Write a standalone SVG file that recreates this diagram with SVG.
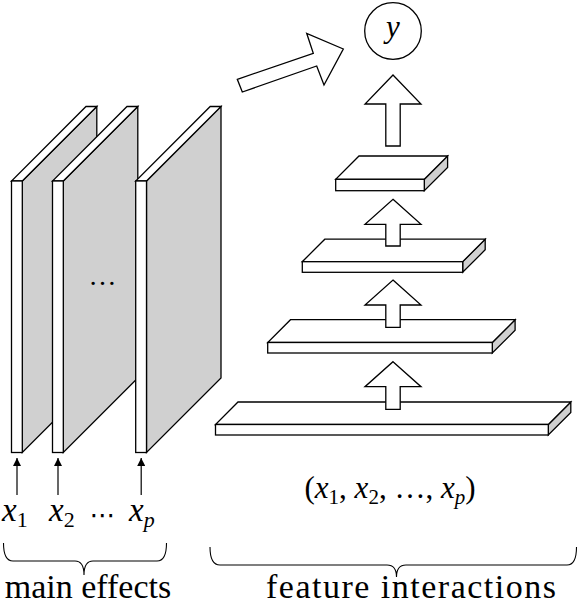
<svg xmlns="http://www.w3.org/2000/svg" width="586" height="605" viewBox="0 0 586 605">
<defs>
<style>
.w{fill:#fff;stroke:#000;stroke-width:1.3;stroke-linejoin:miter}
.g{fill:#d0d0d0;stroke:#000;stroke-width:1.3;stroke-linejoin:miter}
.ln{fill:none;stroke:#000;stroke-width:1.2}
.br{fill:none;stroke:#000;stroke-width:1.1}
.m{font-family:"Liberation Serif",serif;font-style:italic;fill:#000}
.sub{font-style:normal}
.lbl{font-family:"Liberation Serif",serif;font-size:34px;fill:#000}
</style>
<marker id="ah" viewBox="0 0 10 10" refX="10" refY="5" markerWidth="8" markerHeight="8" markerUnits="userSpaceOnUse" orient="auto">
<path d="M0,0 L10,5 L0,10 z" fill="#000"/>
</marker>
</defs>
<rect width="586" height="605" fill="#fff"/>

<g id="panel1">
<polygon class="g" points="22.3,181 96.8,106.5 96.8,378 22.3,452.5"/>
<polygon class="w" points="11.5,181 22.3,181 96.8,106.5 86,106.5"/>
<rect class="w" x="11.5" y="181" width="10.8" height="271.5"/>
</g>
<g id="panel2">
<polygon class="g" points="63.3,181 137.8,106.5 137.8,378 63.3,452.5"/>
<polygon class="w" points="52.5,181 63.3,181 137.8,106.5 127,106.5"/>
<rect class="w" x="52.5" y="181" width="10.8" height="271.5"/>
<text x="102.5" y="285" font-family="Liberation Serif,serif" font-size="28" text-anchor="middle">…</text>
</g>
<g id="panel3">
<polygon class="g" points="146.5,181 221,106.5 221,378 146.5,452.5"/>
<polygon class="w" points="135.7,181 146.5,181 221,106.5 210.2,106.5"/>
<rect class="w" x="135.7" y="181" width="10.8" height="271.5"/>
</g>

<g id="plate1">
<polygon class="g" points="424.3,179.3 447.6,156 447.6,167.4 424.3,190.7"/>
<polygon class="w" points="335.7,179.3 424.3,179.3 447.6,156 359,156"/>
<rect class="w" x="335.7" y="179.3" width="88.6" height="11.4"/>
</g>
<g id="plate2">
<polygon class="g" points="462.7,261.7 485.2,239.2 485.2,249.8 462.7,272.3"/>
<polygon class="w" points="302.3,261.7 462.7,261.7 485.2,239.2 324.8,239.2"/>
<rect class="w" x="302.3" y="261.7" width="160.4" height="10.6"/>
</g>
<g id="plate3">
<polygon class="g" points="492.3,342.5 515.1,319.7 515.1,330.2 492.3,353"/>
<polygon class="w" points="267.7,342.5 492.3,342.5 515.1,319.7 290.5,319.7"/>
<rect class="w" x="267.7" y="342.5" width="224.6" height="10.5"/>
</g>
<g id="plate4">
<polygon class="g" points="548.3,424.5 570.8,402 570.8,412.5 548.3,435"/>
<polygon class="w" points="215.5,424.5 548.3,424.5 570.8,402 238,402"/>
<rect class="w" x="215.5" y="424.5" width="332.8" height="10.5"/>
</g>

<g id="output-y">
<circle class="w" cx="393" cy="31" r="28.3"/>
<text class="m" x="393" y="37" font-size="31" text-anchor="middle">y</text>
</g>

<g id="connectors">
<polygon class="w" points="237.3,79.3 313.3,53.3 306.7,33.3 343.3,49 324,85 316.7,66 242.3,92"/>
<polygon class="w" points="393,75 421,104 400.2,104 400.2,146 385.8,146 385.8,104 365,104"/>
<polygon class="w" points="393,199.3 421,224.3 400.2,224.3 400.2,246 385.8,246 385.8,224.3 365,224.3"/>
<polygon class="w" points="393,280 421,305 400.2,305 400.2,327.3 385.8,327.3 385.8,305 365,305"/>
<polygon class="w" points="393,361.7 421,386.7 400.2,386.7 400.2,409.3 385.8,409.3 385.8,386.7 365,386.7"/>
<line class="ln" x1="17" y1="495" x2="17" y2="458" marker-end="url(#ah)"/>
<line class="ln" x1="58" y1="495" x2="58" y2="458" marker-end="url(#ah)"/>
<line class="ln" x1="141.2" y1="495" x2="141.2" y2="458" marker-end="url(#ah)"/>
</g>

<g id="inputs">
<text class="m" x="2" y="521" font-size="33">x<tspan class="sub" font-size="22" dy="6">1</tspan></text>
<text class="m" x="49" y="521" font-size="33">x<tspan class="sub" font-size="22" dy="6">2</tspan></text>
<text x="102.5" y="524" font-family="DejaVu Sans,sans-serif" font-size="26" text-anchor="middle">⋯</text>
<text class="m" x="129" y="521" font-size="33">x<tspan font-size="22" dy="6">p</tspan></text>
<text class="m" x="390" y="498" font-size="31" text-anchor="middle"><tspan class="sub">(</tspan>x<tspan class="sub" font-size="21" dy="6">1</tspan><tspan class="sub" dy="-6">, </tspan>x<tspan class="sub" font-size="21" dy="6">2</tspan><tspan class="sub" dy="-6">, …, </tspan>x<tspan font-size="21" dy="6">p</tspan><tspan class="sub" dy="-6">)</tspan></text>
</g>

<g id="braces">
<path class="br" d="M3.5,543 Q3.5,561 13,561 L75,561 Q84,561 84,575 Q84,561 93,561 L157,561 Q166.5,561 166.5,543"/>
<path class="br" d="M210,547 Q210,565 220,565 L387,565 Q396.5,565 396.5,577 Q396.5,565 406,565 L567,565 Q576.5,565 576.5,547"/>
</g>

<g id="labels">
<text class="lbl" x="88" y="598" text-anchor="middle">main effects</text>
<text class="lbl" x="411" y="598" text-anchor="middle" font-size="36" textLength="290" lengthAdjust="spacing">feature interactions</text>
</g>
</svg>
